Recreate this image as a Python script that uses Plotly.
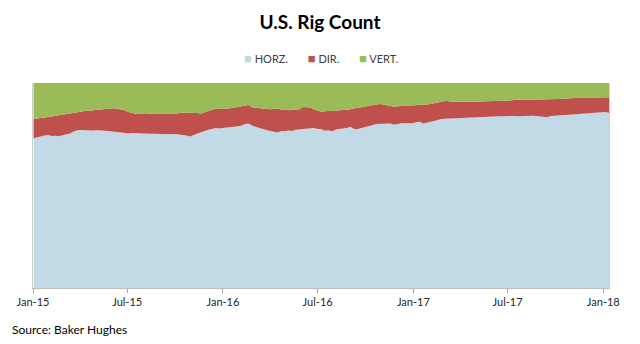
import pandas as pd
import plotly.graph_objects as go

# Weekly share of active U.S. rigs by drilling type (%), Jan 2015 - Jan 2018
first_week = "2015-01-02"

horz = [
    73.0, 73.5, 74.0, 74.4, 74.6, 74.1, 74.3, 74.0, 74.5, 74.8,
    75.4, 76.4, 77.0, 77.1, 76.9, 77.0, 76.8, 76.9, 77.0, 76.8,
    76.6, 76.5, 76.4, 76.1, 75.8, 75.5, 75.4, 75.6, 75.4, 75.5,
    75.4, 75.5, 75.3, 75.2, 75.1, 75.2, 75.0, 75.1, 75.0, 75.1,
    74.9, 74.7, 74.4, 73.9, 74.8, 75.4, 76.0, 76.7, 77.2, 77.6,
    78.0, 77.8, 78.2, 78.3, 78.4, 78.6, 78.9, 79.2, 79.9, 80.2,
    79.3, 78.6, 78.0, 77.6, 77.0, 76.6, 76.2, 75.9, 76.6, 76.5,
    76.8, 76.6, 77.2, 77.4, 77.6, 77.8, 77.9, 78.1, 77.6, 77.5,
    76.7, 76.9, 76.4, 77.3, 77.5, 77.7, 78.1, 78.6, 77.6, 77.5,
    77.9, 78.3, 78.8, 79.4, 80.0, 80.1, 80.0, 80.2, 80.3, 79.6,
    80.0, 80.4, 80.4, 80.3, 80.4, 80.8, 81.1, 80.2, 80.5, 81.1,
    81.5, 82.0, 82.4, 82.6, 82.7, 82.8, 82.8, 82.9, 83.1, 83.2,
    83.3, 83.4, 83.5, 83.4, 83.5, 83.6, 83.6, 83.7, 83.8, 83.8,
    83.9, 84.0, 83.9, 83.8, 83.9, 84.0, 83.9, 84.0, 83.9, 83.8,
    83.5, 83.3, 83.9, 84.1, 84.2, 84.3, 84.4, 84.5, 84.6, 84.8,
    84.9, 85.0, 85.1, 85.3, 85.4, 85.5, 85.7, 85.8, 85.4,
]

dirc = [
    9.4, 9.1, 8.8, 8.7, 8.6, 9.5, 9.7, 10.2, 10.0, 10.0,
    9.7, 9.0, 8.8, 9.0, 9.4, 9.5, 9.9, 10.0, 9.9, 10.4,
    10.8, 11.1, 11.3, 11.4, 11.2, 11.2, 10.4, 9.7, 9.6, 9.6,
    9.9, 9.7, 9.7, 9.6, 9.8, 9.9, 10.2, 9.9, 10.1, 10.0,
    10.4, 10.7, 11.2, 11.6, 10.8, 10.0, 9.1, 8.9, 9.1, 9.4,
    9.5, 9.5, 9.0, 9.1, 9.3, 9.4, 9.3, 9.2, 8.9, 9.1,
    8.9, 9.4, 9.8, 10.0, 10.4, 10.6, 11.2, 11.6, 10.5, 10.3,
    9.9, 10.3, 9.8, 9.8, 10.7, 10.3, 10.1, 9.1, 8.8, 8.5,
    9.5, 9.4, 10.0, 9.1, 9.1, 9.1, 8.9, 8.6, 10.1, 10.4,
    10.3, 10.2, 10.1, 9.9, 9.7, 9.6, 9.5, 9.0, 8.5, 8.8,
    8.6, 8.3, 8.4, 8.7, 8.7, 8.4, 7.9, 9.1, 9.0, 8.6,
    8.7, 8.6, 8.5, 8.7, 8.2, 8.0, 8.1, 8.1, 8.0, 7.7,
    7.5, 7.5, 7.5, 7.7, 7.5, 7.5, 7.7, 7.5, 7.5, 7.6,
    7.5, 7.6, 7.8, 8.0, 8.0, 7.8, 7.8, 7.8, 8.0, 8.1,
    8.5, 8.8, 8.1, 8.0, 8.0, 8.0, 8.0, 8.0, 8.1, 8.2,
    7.9, 7.7, 7.5, 7.5, 7.5, 7.5, 7.4, 7.4, 7.6,
]

vert = [
    17.6, 17.4, 17.2, 16.9, 16.8, 16.4, 16.0, 15.8, 15.5, 15.2,
    14.9, 14.6, 14.2, 13.9, 13.7, 13.5, 13.3, 13.1, 13.1, 12.8,
    12.6, 12.4, 12.3, 12.5, 13.0, 13.3, 14.2, 14.7, 15.0, 14.9,
    14.7, 14.8, 15.0, 15.2, 15.1, 14.9, 14.8, 15.0, 14.9, 14.9,
    14.7, 14.6, 14.4, 14.5, 14.4, 14.6, 14.9, 14.4, 13.7, 13.0,
    12.5, 12.7, 12.8, 12.6, 12.3, 12.0, 11.8, 11.6, 11.2, 10.7,
    11.8, 12.0, 12.2, 12.4, 12.6, 12.8, 12.6, 12.5, 12.9, 13.2,
    13.3, 13.1, 13.0, 12.8, 11.7, 11.9, 12.0, 12.8, 13.6, 14.0,
    13.8, 13.7, 13.6, 13.6, 13.4, 13.2, 13.0, 12.8, 12.3, 12.1,
    11.8, 11.5, 11.1, 10.7, 10.3, 10.3, 10.5, 10.8, 11.2, 11.6,
    11.4, 11.3, 11.2, 11.0, 10.9, 10.8, 11.0, 10.7, 10.5, 10.3,
    9.8, 9.4, 9.1, 8.7, 9.1, 9.2, 9.1, 9.0, 8.9, 9.1,
    9.2, 9.1, 9.0, 8.9, 9.0, 8.9, 8.7, 8.8, 8.7, 8.6,
    8.6, 8.4, 8.3, 8.2, 8.1, 8.2, 8.3, 8.2, 8.1, 8.1,
    8.0, 7.9, 8.0, 7.9, 7.8, 7.7, 7.6, 7.5, 7.3, 7.0,
    7.2, 7.3, 7.4, 7.2, 7.1, 7.0, 6.9, 6.8, 7.0,
]

weeks = pd.date_range(first_week, periods=len(horz), freq="7D")

tick_dates = ["2015-01-01", "2015-07-01", "2016-01-01", "2016-07-01",
              "2017-01-01", "2017-07-01", "2018-01-01"]
tick_labels = ["Jan-15", "Jul-15", "Jan-16", "Jul-16", "Jan-17", "Jul-17", "Jan-18"]

series = [
    ("HORZ.", horz, "#C2DAE5"),
    ("DIR.", dirc, "#C0504D"),
    ("VERT.", vert, "#9BBB59"),
]

fig = go.Figure()
for name, values, color in series:
    fig.add_trace(go.Scatter(
        x=weeks, y=values, name=name, mode="lines",
        stackgroup="share", line=dict(width=0, color=color),
        fillcolor=color, hoverinfo="x+y+name",
    ))

font_family = "Lato, 'Open Sans', sans-serif"

# compact key: coloured square followed by the series name
key_text = "&nbsp;&nbsp;&nbsp;&nbsp;&nbsp;&nbsp;&nbsp;".join(
    f"<span style='color:{color};font-size:13px'>■</span> {name}"
    for name, _, color in series
)

fig.update_layout(
    width=640, height=344,
    margin=dict(l=33, r=31, t=83, b=56),
    paper_bgcolor="white", plot_bgcolor="white",
    font=dict(family=font_family, color="#262626"),
    title=dict(text="<b>U.S. Rig Count</b>", x=0.5, xanchor="center",
               y=1 - 22 / 344, yanchor="middle",
               font=dict(size=19, color="#000000", family=font_family)),
    showlegend=False,
)

fig.add_annotation(text=key_text, xref="paper", yref="paper",
                   x=0.5, y=1 + 25 / 205, xanchor="center", yanchor="middle",
                   showarrow=False,
                   font=dict(size=11, color="#404040", family=font_family))

fig.update_xaxes(
    range=["2015-01-01", "2018-01-12"],
    tickvals=tick_dates, ticktext=tick_labels,
    ticks="outside", ticklen=4, tickcolor="#A6A6A6",
    showline=True, linecolor="#BFBFBF", linewidth=1,
    showgrid=False, zeroline=False,
    tickfont=dict(size=11, color="#262626", family=font_family),
)
fig.update_yaxes(range=[0, 100], showticklabels=False, showgrid=False,
                 zeroline=False, ticks="", showline=True, linecolor="#D0D0D0",
                 mirror=True)

fig.add_annotation(text="Source: Baker Hughes", xref="paper", yref="paper",
                   x=-23 / 576, y=-(329 - 288) / 205,
                   xanchor="left", yanchor="middle", showarrow=False,
                   font=dict(size=12, color="#000000", family=font_family))

fig.write_html("out.html")
